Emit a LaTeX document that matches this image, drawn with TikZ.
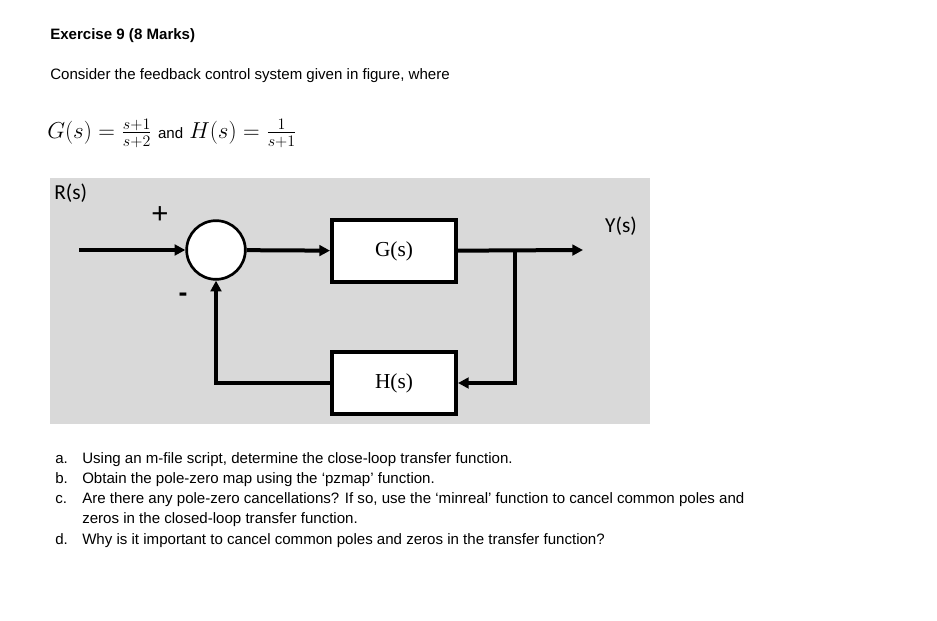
\documentclass[tikz,border=0pt]{standalone}
\usepackage{fontspec}
\setmainfont{Liberation Sans}
\newfontfamily\calfont{Carlito}
\newfontfamily\serfont{Liberation Serif}
\usetikzlibrary{arrows.meta}
\begin{document}
\begin{tikzpicture}[x=0.75pt,y=-0.75pt,
  txt/.style={anchor=base west,inner sep=0pt,font=\fontsize{11.3}{14}\selectfont},
  ln/.style={line width=3pt},
  arr/.style={ln,-{Triangle[length=8pt,width=8pt]}},
  blk/.style={draw,line width=3pt,fill=white,minimum width=93pt,minimum height=47pt,inner sep=0pt,font=\serfont\fontsize{16}{18}\selectfont},
  lbl/.style={inner sep=0pt,font=\calfont\fontsize{16}{18}\selectfont}]
\useasboundingbox (0,0) rectangle (937,620);
\node[txt,font=\bfseries\fontsize{11.3}{14}\selectfont] (t) at (50,40) {Exercise 9 (8 Marks)};
\node[txt] (c) at (50,80) {Consider the feedback control system given in figure, where};
\node[anchor=west,inner sep=0pt] (eq) at (47,133) {\fontsize{16.5}{20}\selectfont$G(s)=\frac{s+1}{s+2}$ {\fontsize{11.3}{14}\selectfont and} $H(s)=\frac{1}{s+1}$};
\fill[black!15] (50,178) rectangle (650,424);
\node[lbl,anchor=north west] (R) at (54,184) {R(s)};
\node[lbl,font=\fontsize{22}{22}\selectfont] (plus) at (160,215) {+};
\node[lbl,font=\bfseries\fontsize{20}{20}\selectfont] (minus) at (183,297) {-};
\node[draw,circle,line width=2pt,fill=white,minimum size=44pt,inner sep=0pt] (sum) at (216,250) {};
\node[blk] (G) at (394,251) {G(s)};
\node[blk] (H) at (394,383) {H(s)};
\node[lbl,anchor=north] (Y) at (621,217) {Y(s)};
\coordinate (in) at (79,250);
\coordinate (out) at (583,250);
\coordinate (br) at (515,250);
\draw[arr] (in) -- (sum);
\draw[arr] (sum) -- (G);
\draw[arr] (G) -- (out);
\draw[arr] (br) -- (515,383) -- (H);
\draw[arr] (H) -| (sum);
\node[txt] (a) at (55,463) {a.};
\node[txt] (a2) at (82,463) {Using an m-file script, determine the close-loop transfer function.};
\node[txt] (b) at (55,483) {b.};
\node[txt] (b2) at (82,483) {Obtain the pole-zero map using the ‘pzmap’ function.};
\node[txt] (cc) at (55,503) {c.};
\node[txt] (c2) at (82,503) {Are there any pole-zero cancellations? If so, use the ‘minreal’ function to cancel common poles and};
\node[txt] (c3) at (82,523) {zeros in the closed-loop transfer function.};
\node[txt] (d) at (55,544) {d.};
\node[txt] (d2) at (82,544) {Why is it important to cancel common poles and zeros in the transfer function?};
\end{tikzpicture}
\end{document}
